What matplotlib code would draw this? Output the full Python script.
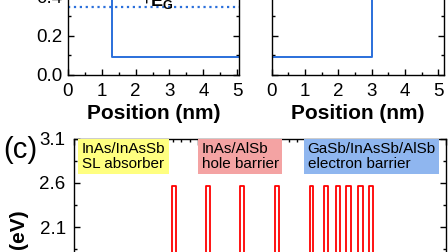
import matplotlib
matplotlib.use("Agg")
import matplotlib.pyplot as plt
from matplotlib.ticker import MultipleLocator

plt.rcParams['font.family'] = ['Liberation Sans', 'DejaVu Sans']
plt.rcParams['mathtext.fontset'] = 'custom'
plt.rcParams['mathtext.rm'] = 'Liberation Sans'
plt.rcParams['mathtext.bf'] = 'Liberation Sans:bold'
plt.rcParams['axes.linewidth'] = 1.0

# panel (a): barrier edge and band gap level
a_x = [1.3, 1.3, 5.05]
a_y = [0.6, 0.09, 0.09]
a_gap = 0.347
# panel (b)
b_x = [0.0, 3.0, 3.0]
b_y = [0.09, 0.09, 0.6]

# panel (c): barrier positions (nm) and height (eV)
c_left = [23.85, 31.9, 40.1, 48.6, 57.1, 60.55, 63.45, 65.95, 68.8, 71.45]
c_right = [24.75, 32.95, 41.3, 49.65, 58.0, 61.6, 64.45, 67.05, 69.9, 72.5]
c_top = 2.56
c_base = 0.0
c_yticks = [2.1, 2.6, 3.1]

blue = '#2a6fdb'


def style(ax):
    ax.tick_params(which='both', direction='in', top=True, right=True, width=1.0)
    ax.tick_params(which='major', length=4)
    ax.tick_params(which='minor', length=2.5)


fig = plt.figure(figsize=(4.48, 2.52), dpi=100)

# top panels, mostly cropped above the image
ax_a = fig.add_axes([67.7 / 448, 0.7024, 171.3 / 448, 0.5 * 195 / 252])
ax_b = fig.add_axes([271.7 / 448, 0.7024, 172.3 / 448, 0.5 * 195 / 252])

ax_a.plot(a_x, a_y, color=blue, lw=1.4)
ax_a.axhline(a_gap, color=blue, lw=1.6, ls=':')
ax_a.annotate('', xy=(2.33, 0.5), xytext=(2.33, 0.355),
              arrowprops=dict(arrowstyle='-', lw=1.0, color='black'))
ax_a.text(2.43, 0.354, r'$\mathbf{E_G}$', fontsize=13, va='baseline', ha='left')
ax_a.set_xlim(0, 5.05)
ax_a.set_ylim(0, 0.5)

ax_b.plot(b_x, b_y, color=blue, lw=1.4)
ax_b.set_xlim(0, 5.17)
ax_b.set_ylim(0, 0.5)

for ax in (ax_a, ax_b):
    ax.xaxis.set_major_locator(MultipleLocator(1))
    ax.xaxis.set_minor_locator(MultipleLocator(0.5))
    ax.yaxis.set_major_locator(MultipleLocator(0.2))
    ax.yaxis.set_minor_locator(MultipleLocator(0.1))
    style(ax)
    ax.tick_params(axis='both', labelsize=13.5)
    ax.tick_params(axis='x', pad=6)
    ax.tick_params(axis='y', pad=4)
    ax.set_xlabel('Position (nm)', fontsize=15, fontweight='bold', labelpad=3)
ax_b.tick_params(axis='y', labelleft=False)

# bottom panel (c), cropped below the image
c_h = 3.6 * 88.6 / 252
ax_c = fig.add_axes([74 / 448, (252 - 138.5) / 252 - c_h, 371.5 / 448, c_h])

xs, ys = [0.0], [c_base]
for l, r in zip(c_left, c_right):
    xs += [l, l, r, r]
    ys += [c_base, c_top, c_top, c_base]
xs.append(90.0)
ys.append(c_base)
ax_c.plot(xs, ys, color='red', lw=1.3)

ax_c.set_xlim(0, 90)
ax_c.set_ylim(-0.5, 3.1)
ax_c.set_yticks(c_yticks)
ax_c.yaxis.set_minor_locator(MultipleLocator(0.25, offset=0.1))
ax_c.xaxis.set_major_locator(MultipleLocator(10))
ax_c.xaxis.set_minor_locator(MultipleLocator(2))
style(ax_c)
ax_c.tick_params(axis='y', labelsize=13.5, pad=6)
ax_c.tick_params(axis='x', labelbottom=False)

box_kw = dict(fontsize=11, va='top', ha='left', linespacing=1.08)
ax_c.text(1.87, 3.06, 'InAs/InAsSb\nSL absorber',
          bbox=dict(boxstyle='square,pad=0.22', fc='#ffff80', ec='none'), **box_kw)
ax_c.text(30.9, 3.06, 'InAs/AlSb\nhole barrier',
          bbox=dict(boxstyle='square,pad=0.22', fc='#f4a3a3', ec='none'), **box_kw)
ax_c.text(56.6, 3.06, 'GaSb/InAsSb/AlSb\nelectron barrier',
          bbox=dict(boxstyle='square,pad=0.22', fc='#8fb6ef', ec='none'), **box_kw)

fig.text(18.3 / 448, (252 - 209) / 252, '(eV)', rotation=90,
         fontsize=15, fontweight='bold', ha='center', va='top')
fig.text(3 / 448, (252 - 150) / 252, '(c)', fontsize=21, ha='left', va='center')

fig.savefig('out.png', dpi=100)
